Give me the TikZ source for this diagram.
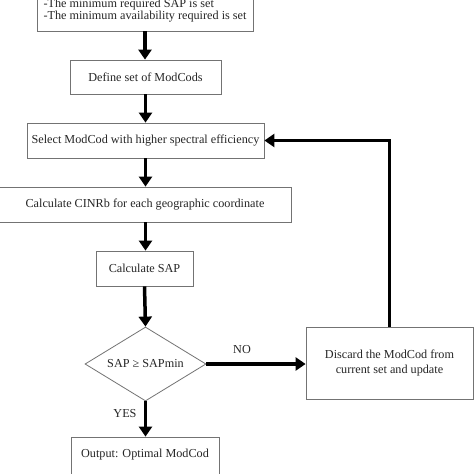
\documentclass[tikz,border=0pt]{standalone}
\usepackage{fontspec}
\setmainfont{Liberation Serif}
\usetikzlibrary{arrows.meta,shapes.geometric}
\begin{document}
\begin{tikzpicture}[x=1pt,y=-1pt,
  box/.style={draw=black!55, line width=0.8pt, inner sep=0pt, text=black!85, font=\fontsize{12.2}{11.5}\selectfont},
  lbl/.style={inner sep=0pt, text=black!85, font=\fontsize{12.2}{12}\selectfont},
  flow/.style={line width=3.5pt, -{Triangle[length=10pt,width=13pt]}}]
\useasboundingbox (0,0) rectangle (474,474);
\clip (0,0) rectangle (474,474);
\fill[white] (0,0) rectangle (474,474);
\node[box, minimum width=216pt, minimum height=41pt, align=left] (init) at (145,10.5) {-The minimum required SAP is set\\-The minimum availability required is set};
\node[box, minimum width=151pt, minimum height=34pt] (define) at (145.5,77) {Define set of ModCods};
\node[box, minimum width=237pt, minimum height=35pt] (select) at (145.5,140.5) {Select ModCod with higher spectral efficiency};
\node[box, minimum width=292pt, minimum height=35pt] (cinr) at (145,204.5) {Calculate CINRb for each geographic coordinate};
\node[box, minimum width=97pt, minimum height=35pt] (sap) at (144.5,268.5) {Calculate SAP};
\node[box, shape=diamond, shape aspect=1.635, minimum width=121pt, minimum height=74pt] (dec) at (145.5,364) {SAP ≥ SAPmin};
\node[box, minimum width=167pt, minimum height=72pt, align=center, font=\fontsize{12.2}{15}\selectfont] (disc) at (389.5,363) {Discard the ModCod from\\current set and update};
\node[box, minimum width=148pt, minimum height=53pt] (out) at (145,463.5) {};
\node[lbl] (outt) at (145,455) {Output: Optimal ModCod};
\node[lbl] (no) at (242,350) {NO};
\node[lbl] (yes) at (125,414) {YES};
\draw[flow] (init.south) -- (init.south |- define.north);
\draw[flow] (define.south) -- (define.south |- select.north);
\draw[flow] (select.south) -- (select.south |- cinr.north);
\draw[flow] (select.south |- cinr.south) -- (select.south |- sap.north);
\draw[flow] (sap.south) -- (dec.north);
\draw[flow] (dec.east) -- (dec.east -| disc.west);
\draw[flow] (dec.south) -- (dec.south |- out.north);
\draw[flow] (disc.north) |- (select.east);
\end{tikzpicture}
\end{document}
